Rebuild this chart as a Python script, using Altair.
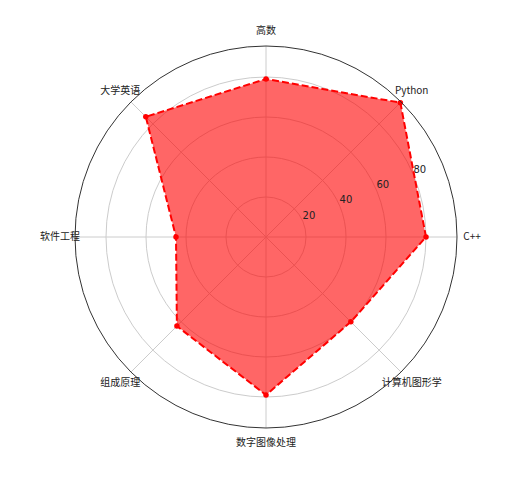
import math
import altair as alt
import pandas as pd

categories = ["C++", "Python", "高数", "大学英语", "软件工程", "组成原理", "数字图像处理", "计算机图形学"]
values = [80, 95, 79, 85, 45, 63, 79, 60]
grid_levels = [20, 40, 60, 80]
tick_labels = ["20", "40", "60", "80"]

RMAX = 95.5
N = len(categories)
STEP = 2 * math.pi / N

df = pd.DataFrame({"cat": categories, "v": values, "i": list(range(N))})
poly = pd.concat([df, df.iloc[[0]]], ignore_index=True)
poly["order"] = list(range(len(poly)))
grid_df = pd.DataFrame({"r": grid_levels})
tick_df = pd.DataFrame({"r": grid_levels, "label": tick_labels})
outer_df = pd.DataFrame({"r": [RMAX]})

xs = alt.Scale(domain=[-RMAX, RMAX])
ys = alt.Scale(domain=[-RMAX, RMAX])
rs = alt.Scale(type="linear", domain=[0, RMAX], range=[0, 191], zero=True)

grid = alt.Chart(grid_df).mark_arc(filled=False, stroke="#cccccc", strokeWidth=1).encode(
    theta=alt.value(0), theta2=alt.value(2 * math.pi),
    radius=alt.Radius("r:Q", scale=rs, stack=None),
)

spokes = alt.Chart(df).transform_calculate(
    x0="0", y0="0",
    x1=f"{RMAX}*cos(datum.i*{STEP})", y1=f"{RMAX}*sin(datum.i*{STEP})",
).mark_rule(color="#cccccc", strokeWidth=1).encode(
    x=alt.X("x0:Q", scale=xs, axis=None), y=alt.Y("y0:Q", scale=ys, axis=None),
    x2="x1:Q", y2="y1:Q",
)

area = alt.Chart(poly).transform_calculate(
    x=f"datum.v*cos(datum.i*{STEP})", y=f"datum.v*sin(datum.i*{STEP})",
).mark_line(fill="#ff0000", fillOpacity=0.6, color="#ff0000", strokeWidth=2,
            strokeDash=[7, 3]).encode(
    x=alt.X("x:Q", scale=xs, axis=None), y=alt.Y("y:Q", scale=ys, axis=None),
    order="order:Q",
)

pts = alt.Chart(df).transform_calculate(
    x=f"datum.v*cos(datum.i*{STEP})", y=f"datum.v*sin(datum.i*{STEP})",
).mark_point(filled=True, color="#ff0000", size=30, opacity=1).encode(
    x=alt.X("x:Q", scale=xs, axis=None), y=alt.Y("y:Q", scale=ys, axis=None),
)

outer = alt.Chart(outer_df).mark_arc(filled=False, stroke="#333333", strokeWidth=1).encode(
    theta=alt.value(0), theta2=alt.value(2 * math.pi),
    radius=alt.Radius("r:Q", scale=rs, stack=None),
)

labels = alt.Chart(df).transform_calculate(
    x=f"103*cos(datum.i*{STEP})", y=f"103*sin(datum.i*{STEP})",
).mark_text(font="Noto Sans CJK SC", fontSize=10, color="#222222",
            align="center", baseline="middle").encode(
    x=alt.X("x:Q", scale=xs, axis=None), y=alt.Y("y:Q", scale=ys, axis=None),
    text="cat:N",
)

ticks = alt.Chart(tick_df).transform_calculate(
    x=f"datum.r*cos({math.pi/8})", y=f"datum.r*sin({math.pi/8})",
).mark_text(font="DejaVu Sans", fontSize=10, color="#222222", dx=6, dy=-6,
            align="center", baseline="middle").encode(
    x=alt.X("x:Q", scale=xs, axis=None), y=alt.Y("y:Q", scale=ys, axis=None),
    text="label:N",
)

chart = alt.layer(grid, spokes, area, pts, outer, labels, ticks).properties(
    width=382, height=382,
    padding={"left": 67, "top": 38, "right": 42, "bottom": 44},
    autosize=alt.AutoSizeParams(type="none"),
).configure_view(stroke=None)

chart.save("out.html", embed_options={"renderer": "svg", "actions": False})
